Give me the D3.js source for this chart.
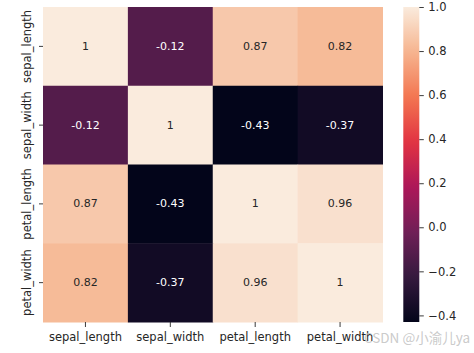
<!DOCTYPE html>
<html>
<head>
<meta charset="utf-8">
<script src="https://cdn.jsdelivr.net/npm/d3@7"></script>
<style>
  html, body { margin: 0; padding: 0; background: #fff; }
  svg { display: block; font-family: "DejaVu Sans", sans-serif; }
</style>
</head>
<body>
<svg id="chart" width="474" height="353"></svg>
<script>
const features = ["sepal_length", "sepal_width", "petal_length", "petal_width"];
const corr = [
  [1, -0.12, 0.87, 0.82],
  [-0.12, 1, -0.43, -0.37],
  [0.87, -0.43, 1, 0.96],
  [0.82, -0.37, 0.96, 1]
];
const cbarTicks = [-0.4, -0.2, 0.0, 0.2, 0.4, 0.6, 0.8, 1.0];
const watermark = "CSDN @小渝儿ya";

// rocket colormap stops
const rocketStops = ["#03051a", "#35193e", "#701f57", "#ad1759", "#e13342", "#f37651", "#f6b48f", "#faebdd"];
const rocket = d3.scaleLinear()
  .domain(d3.range(rocketStops.length).map(i => i / (rocketStops.length - 1)))
  .range(rocketStops)
  .interpolate(d3.interpolateRgb)
  .clamp(true);

const svg = d3.select("#chart");
const pLeft = 43, pTop = 7, pRight = 382.5, pBottom = 322;
const labelFont = 11.5, annotFont = 11;

const vmin = d3.min(corr.flat()), vmax = d3.max(corr.flat());
const norm = d3.scaleLinear().domain([vmin, vmax]).range([0, 1]);
const color = v => rocket(norm(v));

const x = d3.scaleBand().domain(features).range([pLeft, pRight]);
const y = d3.scaleBand().domain(features).range([pTop, pBottom]);

const cells = [];
corr.forEach((row, i) => row.forEach((v, j) => cells.push({r: features[i], c: features[j], v})));

svg.append("g").selectAll("rect").data(cells).join("rect")
  .attr("x", d => x(d.c))
  .attr("y", d => y(d.r))
  .attr("width", x.bandwidth() + 0.5)
  .attr("height", y.bandwidth() + 0.5)
  .attr("fill", d => color(d.v));

function lum(c) {
  const rgb = d3.rgb(c);
  const f = u => { u /= 255; return u <= 0.03928 ? u / 12.92 : Math.pow((u + 0.055) / 1.055, 2.4); };
  return 0.2126 * f(rgb.r) + 0.7152 * f(rgb.g) + 0.0722 * f(rgb.b);
}

svg.append("g").selectAll("text").data(cells).join("text")
  .attr("x", d => x(d.c) + x.bandwidth() / 2)
  .attr("y", d => y(d.r) + y.bandwidth() / 2)
  .attr("text-anchor", "middle")
  .attr("dominant-baseline", "central")
  .attr("font-size", annotFont)
  .attr("fill", d => lum(color(d.v)) > 0.408 ? "#262626" : "#ffffff")
  .text(d => String(d.v));

// axes
const xAxis = svg.append("g").attr("transform", `translate(0,${pBottom})`)
  .call(d3.axisBottom(x).tickSize(5).tickPadding(5.5));
const yAxis = svg.append("g").attr("transform", `translate(${pLeft},0)`)
  .call(d3.axisLeft(y).tickSize(4).tickPadding(3.5));
[xAxis, yAxis].forEach(a => {
  a.select(".domain").remove();
  a.selectAll("line").attr("stroke", "#262626").attr("stroke-width", 0.9);
  a.selectAll("text").attr("font-size", labelFont).attr("fill", "#262626").attr("font-family", "DejaVu Sans, sans-serif");
});
yAxis.selectAll(".tick text")
  .attr("transform", "rotate(-90)")
  .attr("text-anchor", "middle")
  .attr("x", 0)
  .attr("y", -12)
  .attr("dy", "0em");

// colorbar
const cbX = 403.3, cbW = 16;
const cb = d3.scaleLinear().domain([vmin, vmax]).range([pBottom, pTop]);
const defs = svg.append("defs");
const grad = defs.append("linearGradient").attr("id", "cbgrad")
  .attr("x1", 0).attr("y1", 1).attr("x2", 0).attr("y2", 0);
d3.range(0, 1.0001, 0.02).forEach(t => {
  grad.append("stop").attr("offset", t).attr("stop-color", rocket(t));
});
svg.append("rect").attr("x", cbX).attr("y", pTop).attr("width", cbW).attr("height", pBottom - pTop)
  .attr("fill", "url(#cbgrad)");
const cAxis = svg.append("g").attr("transform", `translate(${cbX + cbW},0)`)
  .call(d3.axisRight(cb).tickValues(cbarTicks).tickFormat(d3.format(".1f")).tickSize(4.5).tickPadding(4.5));
cAxis.select(".domain").remove();
cAxis.selectAll("line").attr("stroke", "#262626").attr("stroke-width", 0.9);
cAxis.selectAll("text").attr("font-size", labelFont).attr("fill", "#262626").attr("font-family", "DejaVu Sans, sans-serif");

// watermark
svg.append("text")
  .attr("x", 470).attr("y", 342.5)
  .attr("text-anchor", "end")
  .attr("font-size", 13.5)
  .attr("font-family", "Noto Sans CJK SC, sans-serif")
  .attr("fill", "#c4c4c4")
  .attr("fill-opacity", 0.9)
  .text(watermark);
</script>
</body>
</html>
